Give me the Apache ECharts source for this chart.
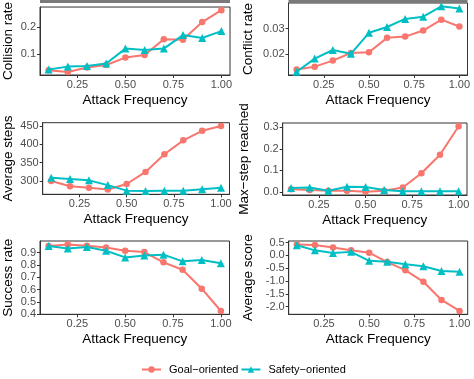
<!DOCTYPE html>
<html><head><meta charset="utf-8">
<script src="https://cdn.jsdelivr.net/npm/echarts@6/dist/echarts.min.js"></script>
<style>html,body{margin:0;padding:0;background:#fff}#c{width:474px;height:379px}</style>
</head><body><div id="c"></div>
<script>
const freq = [0.1,0.2,0.3,0.4,0.5,0.6,0.7,0.8,0.9,1.0];
const xTicks = [0.25,0.5,0.75,1.0];

const collisionGoal   = [0.038,0.032,0.049,0.058,0.086,0.096,0.155,0.153,0.220,0.265];
const collisionSafety = [0.041,0.052,0.054,0.064,0.120,0.115,0.120,0.171,0.160,0.186];
const conflictGoal    = [0.0138,0.0149,0.0173,0.0203,0.0206,0.0263,0.0268,0.0292,0.0335,0.0308];
const conflictSafety  = [0.0129,0.0181,0.0215,0.0200,0.0283,0.0306,0.0338,0.0347,0.0388,0.0379];
const stepsGoal       = [300,286,282,277,292,325,373,411,437,450];
const stepsSafety     = [309,306,302,289,274,273,274,274,278,282];
const maxStepGoal     = [0.012,0.008,0.005,0.005,0.000,0.005,0.020,0.086,0.172,0.305];
const maxStepSafety   = [0.017,0.020,0.005,0.023,0.022,0.008,0.002,0.002,0.002,0.002];
const successGoal     = [0.955,0.966,0.956,0.943,0.916,0.905,0.822,0.762,0.608,0.427];
const successSafety   = [0.955,0.935,0.946,0.916,0.862,0.878,0.884,0.830,0.840,0.814];
const scoreGoal       = [0.43,0.41,0.31,0.20,0.11,-0.26,-0.575,-1.03,-1.74,-2.17];
const scoreSafety     = [0.40,0.20,0.10,0.14,-0.21,-0.25,-0.34,-0.42,-0.61,-0.64];

const panels = [
  {name:'Collision rate', goal:collisionGoal, safety:collisionSafety, ticks:[0.1,0.2], dec:1, min:0.0204, max:0.2767,
   box:[40,3,230,75], gap:25, strip:true},
  {name:'Conflict rate', goal:conflictGoal, safety:conflictSafety, ticks:[0.02,0.03], dec:2, min:0.0116, max:0.0401,
   box:[288.5,3,467.5,75], gap:33, strip:true},
  {name:'Average steps', goal:stepsGoal, safety:stepsSafety, ticks:[300,350,400,450], dec:0, min:264, max:459,
   box:[42.7,122.7,229.5,194.3], gap:27},
  {name:'Max\u2212step reached', goal:maxStepGoal, safety:maxStepSafety, ticks:[0,0.1,0.2,0.3], dec:1, min:-0.015, max:0.32,
   box:[282.7,123,467,195], gap:31},
  {name:'Success rate', goal:successGoal, safety:successSafety, ticks:[0.4,0.5,0.6,0.7,0.8,0.9], dec:1, min:0.4, max:0.995,
   box:[40,241,229.5,314.3], gap:25},
  {name:'Average score', goal:scoreGoal, safety:scoreSafety, ticks:[-2,-1.5,-1,-0.5,0,0.5], dec:1, min:-2.30, max:0.565,
   box:[288.7,241,467.7,314.3], gap:33},
];

const W = 474, H = 379;
const RED = '#F8766D', TEAL = '#00BFC4';
const FONT = 'Liberation Sans, Arial, sans-serif';
const grid = [], xAxis = [], yAxis = [], series = [], graphic = [];

panels.forEach((p, i) => {
  const [l,t,r,b] = p.box;
  grid.push({left:l, top:t, width:r-l, height:b-t, show:true, borderColor:'#333', borderWidth:1, backgroundColor:'transparent'});
  xAxis.push({type:'value', gridIndex:i, min:0.055, max:1.045,
    name:'Attack Frequency', nameLocation:'middle', nameGap:18,
    nameTextStyle:{color:'#000', fontSize:13.5, fontFamily:FONT},
    axisLine:{show:true, onZero:false, lineStyle:{color:'#333'}},
    axisTick:{show:true, length:3, lineStyle:{color:'#333'}, customValues:xTicks},
    axisLabel:{color:'#4d4d4d', fontSize:11, fontFamily:FONT, margin:4, customValues:xTicks,
      formatter:v=>v.toFixed(2)},
    splitLine:{show:false}});
  yAxis.push({type:'value', gridIndex:i, min:p.min, max:p.max,
    name:p.name, nameLocation:'middle', nameGap:p.gap, nameRotate:90,
    nameTextStyle:{color:'#000', fontSize:13.5, fontFamily:FONT},
    axisLine:{show:true, onZero:false, lineStyle:{color:'#333'}},
    axisTick:{show:true, length:3, lineStyle:{color:'#333'}, customValues:p.ticks},
    axisLabel:{color:'#4d4d4d', fontSize:11, fontFamily:FONT, margin:4, customValues:p.ticks,
      formatter:v=>{const s=(Math.abs(v)<1e-9?0:v).toFixed(p.dec); return s;}},
    splitLine:{show:false}});
  series.push({name:'Goal\u2212oriented', type:'line', xAxisIndex:i, yAxisIndex:i,
    data:freq.map((f,k)=>[f,p.goal[k]]), color:RED,
    lineStyle:{width:2, color:RED}, symbol:'circle', symbolSize:6.5,
    itemStyle:{color:RED}, animation:false, z:2});
  series.push({name:'Safety\u2212oriented', type:'line', xAxisIndex:i, yAxisIndex:i,
    data:freq.map((f,k)=>[f,p.safety[k]]), color:TEAL,
    lineStyle:{width:2, color:TEAL}, symbol:'triangle', symbolSize:8,
    itemStyle:{color:TEAL}, animation:false, z:3});
  if (p.strip) {
    graphic.push({type:'rect', shape:{x:l, y:0, width:r-l, height:t}, style:{fill:'#7a7a7a'}, z:10});
  }
});

const chart = echarts.init(document.getElementById('c'), null, {renderer:'canvas', width:W, height:H});
chart.setOption({
  animation:false,
  backgroundColor:'#fff',
  grid, xAxis, yAxis, series, graphic,
  legend:{top:364, left:141, padding:0, itemWidth:19, itemHeight:8, itemGap:2,
    textStyle:{color:'#000', fontSize:11, fontFamily:FONT, padding:[0,0,0,3]},
    data:['Goal\u2212oriented','Safety\u2212oriented']}
});
</script></body></html>
